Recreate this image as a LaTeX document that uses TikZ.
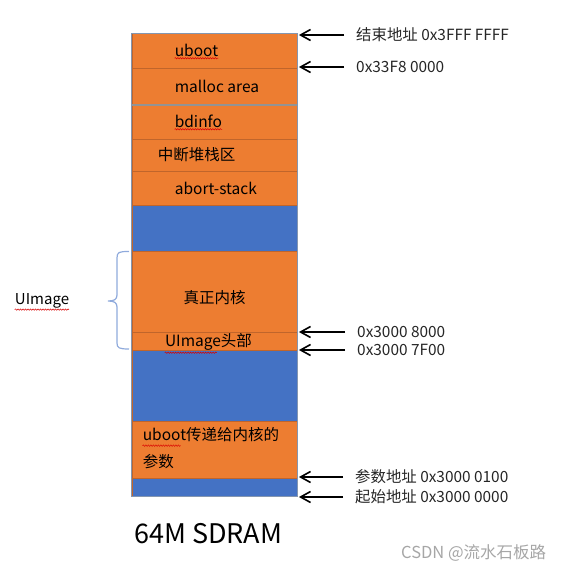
\documentclass[tikz,border=0pt]{standalone}
\usepackage{fontspec}
\setmainfont{Noto Sans CJK SC}
\usetikzlibrary{calc,positioning,arrows.meta,decorations.pathmorphing}
\definecolor{memorange}{HTML}{ED7D31}
\definecolor{memblue}{HTML}{4472C4}
\definecolor{cellline}{HTML}{C0652B}
\definecolor{colline}{HTML}{8496B0}
\definecolor{bracecol}{HTML}{8FAADC}

\begin{document}
\begin{tikzpicture}[x=1pt,y=-1pt,
    cell/.style={draw=cellline,line width=0.8pt,minimum width=165pt,inner sep=0pt},
    celltext/.style={font=\fontsize{15.5}{27}\selectfont,inner sep=0pt,anchor=west},
    addrtext/.style={font=\fontsize{15.4}{18}\selectfont,text=black!85,inner sep=0pt,anchor=west},
    addr/.style={-{Straight Barb[length=10pt,width=11pt,line width=1.6pt]},line width=1.6pt,shorten <=12pt,shorten >=1.5pt},
    squig/.style={red!85!black,line width=0.5pt,decorate,decoration={snake,amplitude=0.7pt,segment length=2.5pt}}]

\useasboundingbox (0,0) rectangle (564,570);

% memory column, top to bottom
\foreach \n/\t/\b/\c in {uboot/33.5/68/memorange, malloc/68/104.5/memorange,
    bdinfo/104.5/139/memorange, irq/139/171/memorange, abort/171/205.5/memorange,
    freeA/205.5/251/memblue, kernel/251/332/memorange, hdr/332/350/memorange,
    freeB/350/421/memblue, param/421/478/memorange, freeC/478/496/memblue}
    \node[cell,fill=\c,minimum height={\b-\t}] (\n) at (214.5,{(\t+\b)/2}) {};
\draw[colline,line width=1pt] (uboot.north west) rectangle (freeC.south east);
\draw[gray!85,line width=2.5pt] (malloc.south west) -- (malloc.south east);

% cell texts
\node[celltext] (tUboot) at ([xshift=43pt]uboot.west) {uboot};
\node[celltext] (tMalloc) at ([xshift=43pt]malloc.west) {malloc area};
\node[celltext] (tBdinfo) at ([xshift=43pt]bdinfo.west) {bdinfo};
\node[celltext] (tIrq) at ([xshift=26pt]irq.west) {中断堆栈区};
\node[celltext] (tAbort) at ([xshift=43pt]abort.west) {abort-stack};
\node[celltext,anchor=center] (tKernel) at ([yshift=-6pt]kernel.center) {真正内核};
\node[celltext,anchor=center] (tHdr) at ([xshift=-6pt,yshift=-1pt]hdr.center) {UImage头部};
\node[celltext,align=left] (tParam) at ([xshift=11pt,yshift=1pt]param.west) {uboot传递给内核的\\参数};

\draw[squig] ([yshift=-1pt]tUboot.south west) -- ([yshift=-1pt]tUboot.south east);
\draw[squig] ([yshift=-1pt]tBdinfo.south west) -- ([yshift=-1pt]tBdinfo.south east);
\draw[squig] ([yshift=-2pt]tHdr.south west) -- ([xshift=52pt,yshift=-2pt]tHdr.south west);
\draw[squig] ([yshift=-18pt]tParam.north west) -- ([xshift=38pt,yshift=-18pt]tParam.north west);

% UImage brace
\draw[bracecol,line width=1.2pt] (129,251.5) .. controls (119,251.5) and (117,252) .. (117,258)
    -- (117,295) .. controls (117,299.5) and (114,301) .. (108,301)
    .. controls (114,301) and (117,302.5) .. (117,307) -- (117,343)
    .. controls (117,348) and (119,349) .. (129,349);
\node[celltext,anchor=center,font=\fontsize{15}{18}\selectfont] (tUimg) at (42,301) {UImage};
\draw[squig] ([yshift=-1pt]tUimg.south west) -- ([yshift=-1pt]tUimg.south east);

% addresses
\node[addrtext] (aEnd) at (356,35) {结束地址 0x3FFF FFFF};
\node[addrtext] (aMalloc) at (356,67) {0x33F8 0000};
\node[addrtext] (aKernel) at (357,332) {0x3000 8000};
\node[addrtext] (aHdr) at (357,350) {0x3000 7F00};
\node[addrtext] (aParam) at (355,477) {参数地址 0x3000 0100};
\node[addrtext] (aStart) at (355,497) {起始地址 0x3000 0000};

\draw[addr] (aEnd.west) -- (aEnd.west -| uboot.east);
\draw[addr] (aMalloc.west) -- (aMalloc.west -| uboot.east);
\draw[addr] (aKernel.west) -- (aKernel.west -| kernel.east);
\draw[addr] (aHdr.west) -- (aHdr.west -| hdr.east);
\draw[addr] (aParam.west) -- (aParam.west -| param.east);
\draw[addr] (aStart.west) -- (aStart.west -| freeC.east);

\node[inner sep=0pt,anchor=west,font=\fontsize{27}{30}\selectfont] (title) at (134,534) {64M SDRAM};
\node[inner sep=0pt,anchor=west,text=gray!70,font=\fontsize{16.5}{18}\selectfont] (mark) at (401,553) {CSDN @流水石板路};
\end{tikzpicture}
\end{document}
